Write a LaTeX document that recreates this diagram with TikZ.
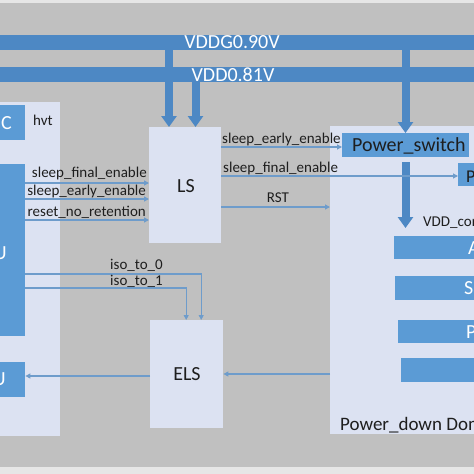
\documentclass[tikz,border=0pt]{standalone}
\usepackage{fontspec}
\setmainfont{Carlito}
\usetikzlibrary{arrows.meta}
\definecolor{bgray}{HTML}{C0C0C0}
\definecolor{edgegray}{HTML}{E6E6E6}
\definecolor{light}{HTML}{DCE2F2}
\definecolor{boxblue}{HTML}{5B9BD5}
\definecolor{busblue}{HTML}{4D88C4}
\definecolor{sigline}{HTML}{6E9CCB}
\definecolor{txt}{HTML}{1E1E1E}
\begin{document}
\begin{tikzpicture}[x=1pt,y=-1pt,
  lightbox/.style={fill=light, inner sep=0pt, anchor=north west},
  bluebox/.style={fill=boxblue, inner sep=0pt, anchor=north west},
  busbar/.style={fill=busblue, inner sep=0pt, anchor=north west, minimum width=474pt, minimum height=15pt},
  sig/.style={draw=sigline, line width=1.1pt, -{Triangle[length=5pt,width=5pt]}},
  fat/.style={draw=busblue, line width=8pt, -{Triangle[length=11pt,width=15pt]}},
  lab/.style={font=\fontsize{15}{18}\selectfont, text=txt, inner sep=0pt},
  big/.style={font=\fontsize{20}{24}\selectfont, inner sep=0pt},
  wlab/.style={big, text=white},
  blab/.style={big, text=txt}]
\useasboundingbox (0,0) rectangle (474,474);
\clip (0,0) rectangle (474,474);
\fill[edgegray] (0,0) rectangle (474,474);
\fill[bgray] (0,3) rectangle (474,467);

% buses
\node[busbar] (vddg) at (0,35) {};
\node[busbar] (vdd) at (0,67) {};
\node[wlab] (vddgt) at (232,42.5) {VDDG0.90V};
\node[wlab] (vddt) at (233,74.5) {VDD0.81V};

% left block
\node[lightbox, minimum width=65pt, minimum height=334pt] (left) at (-5,102) {};
\node[bluebox, minimum width=35pt, minimum height=35pt] (C) at (-10,105) {};
\node[bluebox, minimum width=35pt, minimum height=172pt] (U) at (-10,164) {};
\node[bluebox, minimum width=35pt, minimum height=35pt] (U3) at (-10,362) {};
\node[wlab, anchor=base east] (Ct) at (12,129) {C};
\node[wlab, anchor=base east] (Ut) at (7,259) {U};
\node[wlab, anchor=base east] (U3t) at (6,385) {U};
\node[lab, anchor=base west] (hvt) at (33,125) {hvt};

% LS and ELS
\node[lightbox, minimum width=72pt, minimum height=116pt, big, text=txt] (LS) at (149,127) {};
\node[blab] (LSt) at (186,186.5) {LS};
\node[lightbox, minimum width=73pt, minimum height=108pt] (ELS) at (150,320) {};
\node[blab] (ELSt) at (187,374) {ELS};

% power down domain
\node[lightbox, minimum width=160pt, minimum height=308pt] (pd) at (330,126) {};
\node[bluebox, minimum width=127pt, minimum height=24pt] (psw) at (342,133) {};
\node[blab, anchor=base west] (pswt) at (352,151) {Power\_switch};
\node[bluebox, minimum width=30pt, minimum height=23pt] (pbox) at (458,163) {};
\node[font=\fontsize{18}{22}\selectfont, text=txt, inner sep=0pt, anchor=base west] (pboxt) at (466,182) {P};
\node[bluebox, minimum width=90pt, minimum height=23pt] (bA) at (394,236) {};
\node[bluebox, minimum width=90pt, minimum height=24pt] (bS) at (395,276) {};
\node[bluebox, minimum width=90pt, minimum height=23pt] (bP) at (398,320) {};
\node[bluebox, minimum width=90pt, minimum height=24pt] (bX) at (401,358) {};
\node[wlab, anchor=base west] (bAt) at (468,254) {A};
\node[wlab, anchor=base west] (bSt) at (464,294) {S};
\node[wlab, anchor=base west] (bPt) at (466,338) {P};
\node[lab, anchor=base west] (vddcore) at (423,226) {VDD\_core};
\node[font=\fontsize{19}{23}\selectfont, text=txt, inner sep=0pt, anchor=base west] (pdt) at (340,430) {Power\_down Domain};

% fat supply arrows
\coordinate (xa) at (169,0);
\coordinate (xb) at (195.5,0);
\coordinate (xc) at (405.5,0);
\draw[fat] (vddg.south -| xa) -- (LS.north -| xa);
\draw[fat] (vdd.south -| xb) -- (LS.north -| xb);
\draw[fat] (vddg.south -| xc) -- (psw.north -| xc);
\draw[fat] ([yshift=-5pt]psw.south -| xc) -- ([yshift=8pt]bA.north -| xc);

% signals left -> LS
\draw[sig] (U.east |- 0,183) -- (LS.west |- 0,183);
\draw[sig] (U.east |- 0,199) -- (LS.west |- 0,199);
\draw[sig] (U.east |- 0,220) -- (LS.west |- 0,220);
\node[lab, anchor=base east] (l1) at (147,177) {sleep\_final\_enable};
\node[lab, anchor=base east] (l2) at (146,195) {sleep\_early\_enable};
\node[lab, anchor=base east] (l3) at (146,216) {reset\_no\_retention};

% signals LS -> power down
\draw[sig] (LS.east |- 0,147) -- (psw.west |- 0,147);
\draw[sig] (LS.east |- 0,176) -- (pbox.west |- 0,176);
\draw[sig] (LS.east |- 0,207) -- (pd.west |- 0,207);
\node[lab, anchor=base west] (r1) at (222,143) {sleep\_early\_enable};
\node[lab, anchor=base west] (r2) at (223,172) {sleep\_final\_enable};
\node[lab, anchor=base] (r3) at (278,202) {RST};

% iso signals
\draw[sig] (U.east |- 0,274) -| ([xshift=14.5pt]ELS.north);
\draw[sig] (U.east |- 0,288) -| ([xshift=-0.5pt]ELS.north);
\node[lab, anchor=base] (i0) at (136.5,269) {iso\_to\_0};
\node[lab, anchor=base] (i1) at (136.5,285) {iso\_to\_1};

% ELS connections
\draw[sig] (ELS.west |- 0,376) -- (U3.east |- 0,376);
\draw[sig] (pd.west |- 0,374) -- (ELS.east |- 0,374);
\end{tikzpicture}
\end{document}
